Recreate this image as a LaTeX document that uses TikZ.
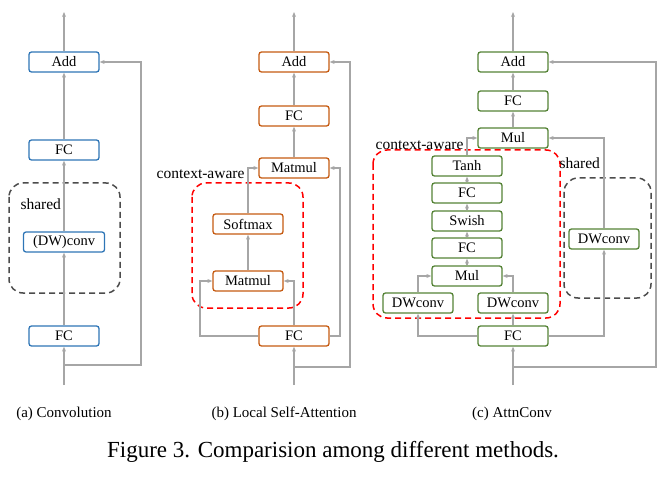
\documentclass[tikz,border=0pt]{standalone}
\usepackage{fontspec}
\setmainfont{Liberation Serif}
\usetikzlibrary{arrows.meta}
\definecolor{cb}{RGB}{46,117,182}
\definecolor{co}{RGB}{197,90,17}
\definecolor{cg}{RGB}{84,130,53}
\definecolor{ln}{RGB}{166,166,166}
\begin{document}
\begin{tikzpicture}[x=1pt,y=-1pt,
 box/.style={draw=#1,line width=1.3pt,rounded corners=2.5pt,minimum height=20pt,inner sep=0pt,font=\fontsize{14.5}{14.5}\selectfont},
 w70/.style={minimum width=70pt},
 ar/.style={draw=ln,line width=1.3pt,-{Stealth[length=5pt,width=4pt]}},
 ln/.style={draw=ln,line width=1.3pt},
 grp/.style={draw=#1,dashed,line width=1.5pt,rounded corners=14pt,dash pattern=on 6pt off 4pt},
 lab/.style={font=\fontsize{15.5}{15.5}\selectfont}]
\useasboundingbox (0,0) rectangle (666,478);
% (a)
\node[box=cb,w70] (aadd) at (64,62) {Add};
\node[box=cb,w70] (afc) at (64,150) {FC};
\node[box=cb,minimum width=81pt] (aconv) at (64,242) {(DW)conv};
\node[box=cb,w70] (afc0) at (64,336) {FC};
\draw[grp=black!70] (9,183) rectangle (120,293);
\node[lab,anchor=west] (ash) at (17,204) {shared};
\coordinate (ain) at (64,385);
\coordinate (abr) at (64,365);
\coordinate (aout) at (64,12);
\draw[ar] (ain) -- (afc0);
\draw[ar] (afc0) -- (aconv);
\draw[ar] (aconv) -- (afc);
\draw[ar] (afc) -- (aadd);
\draw[ar] (aadd) -- (aout);
\draw[ar] (abr) -| (141,62) -- (aadd.east);
% (b)
\node[box=co,w70] (badd) at (294,62) {Add};
\node[box=co,w70] (bfc) at (294,116) {FC};
\node[box=co,w70] (bmm) at (294,168) {Matmul};
\node[box=co,w70] (bsm) at (248,224) {Softmax};
\node[box=co,w70] (bmm2) at (248,281) {Matmul};
\node[box=co,w70] (bfc0) at (294,336) {FC};
\draw[grp=red] (192,183) rectangle (303,308);
\node[lab,anchor=east] (bca) at (248,174) {context-aware};
\coordinate (bin) at (294,385);
\coordinate (bbr) at (294,367);
\coordinate (bout) at (294,12);
\draw[ar] (bin) -- (bfc0);
\draw[ar] (bfc0.west) -| (200,281) -- (bmm2.west);
\draw[ar] (bfc0.north) |- (bmm2.east);
\draw[ar] (bmm2) -- (bsm);
\draw[ar] (bsm.north) |- (bmm.west);
\draw[ar] (bfc0.east) -| (340,168) -- (bmm.east);
\draw[ar] (bmm) -- (bfc);
\draw[ar] (bfc) -- (badd);
\draw[ar] (badd) -- (bout);
\draw[ar] (bbr) -| (350,62) -- (badd.east);
% (c)
\node[box=cg,w70] (cadd) at (513,62) {Add};
\node[box=cg,w70] (cfc2) at (513,101) {FC};
\node[box=cg,w70] (cmul) at (513,138) {Mul};
\node[box=cg,w70] (ctanh) at (467,166) {Tanh};
\node[box=cg,w70] (cfc1) at (467,193) {FC};
\node[box=cg,w70] (csw) at (467,221) {Swish};
\node[box=cg,w70] (cfc) at (467,248) {FC};
\node[box=cg,w70] (cmul2) at (467,276) {Mul};
\node[box=cg,w70] (cdl) at (418,303) {DWconv};
\node[box=cg,w70] (cdr) at (513,303) {DWconv};
\node[box=cg,w70] (cds) at (604,239) {DWconv};
\node[box=cg,w70] (cfc0) at (513,336) {FC};
\draw[grp=red] (373,150) rectangle (560,318);
\draw[grp=black!70] (564,178) rectangle (651,298);
\node[lab,anchor=east] (cca) at (467,145) {context-aware};
\node[lab,anchor=west] (csh) at (556,163) {shared};
\coordinate (cin) at (513,385);
\coordinate (cbr) at (513,367);
\coordinate (cout) at (513,12);
\draw[ar] (cin) -- (cfc0);
\draw[ar] (cfc0) -- (cdr);
\draw[ar] (cfc0.west) -| (cdl.south);
\draw[ar] (cfc0.east) -| (cds.south);
\draw[ar] (cdl.north) |- (cmul2.west);
\draw[ar] (cdr.north) |- (cmul2.east);
\draw[ar] (cmul2) -- (cfc);
\draw[ar] (cfc) -- (csw);
\draw[ar] (csw) -- (cfc1);
\draw[ar] (cfc1) -- (ctanh);
\draw[ar] (ctanh.north) |- (cmul.west);
\draw[ar] (cds.north) |- (cmul.east);
\draw[ar] (cmul) -- (cfc2);
\draw[ar] (cfc2) -- (cadd);
\draw[ar] (cadd) -- (cout);
\draw[ar] (cbr) -| (656,62) -- (cadd.east);
% captions
\node[font=\fontsize{15}{15}\selectfont] (capa) at (64,414) {(a) Convolution};
\node[font=\fontsize{15}{15}\selectfont] (capb) at (284,414) {(b) Local Self-Attention};
\node[font=\fontsize{15}{15}\selectfont] (capc) at (512,414) {(c) AttnConv};
\node[font=\fontsize{23}{24}\selectfont] (fig) at (333,452) {Figure 3. Comparision among different methods.};
\end{tikzpicture}
\end{document}
